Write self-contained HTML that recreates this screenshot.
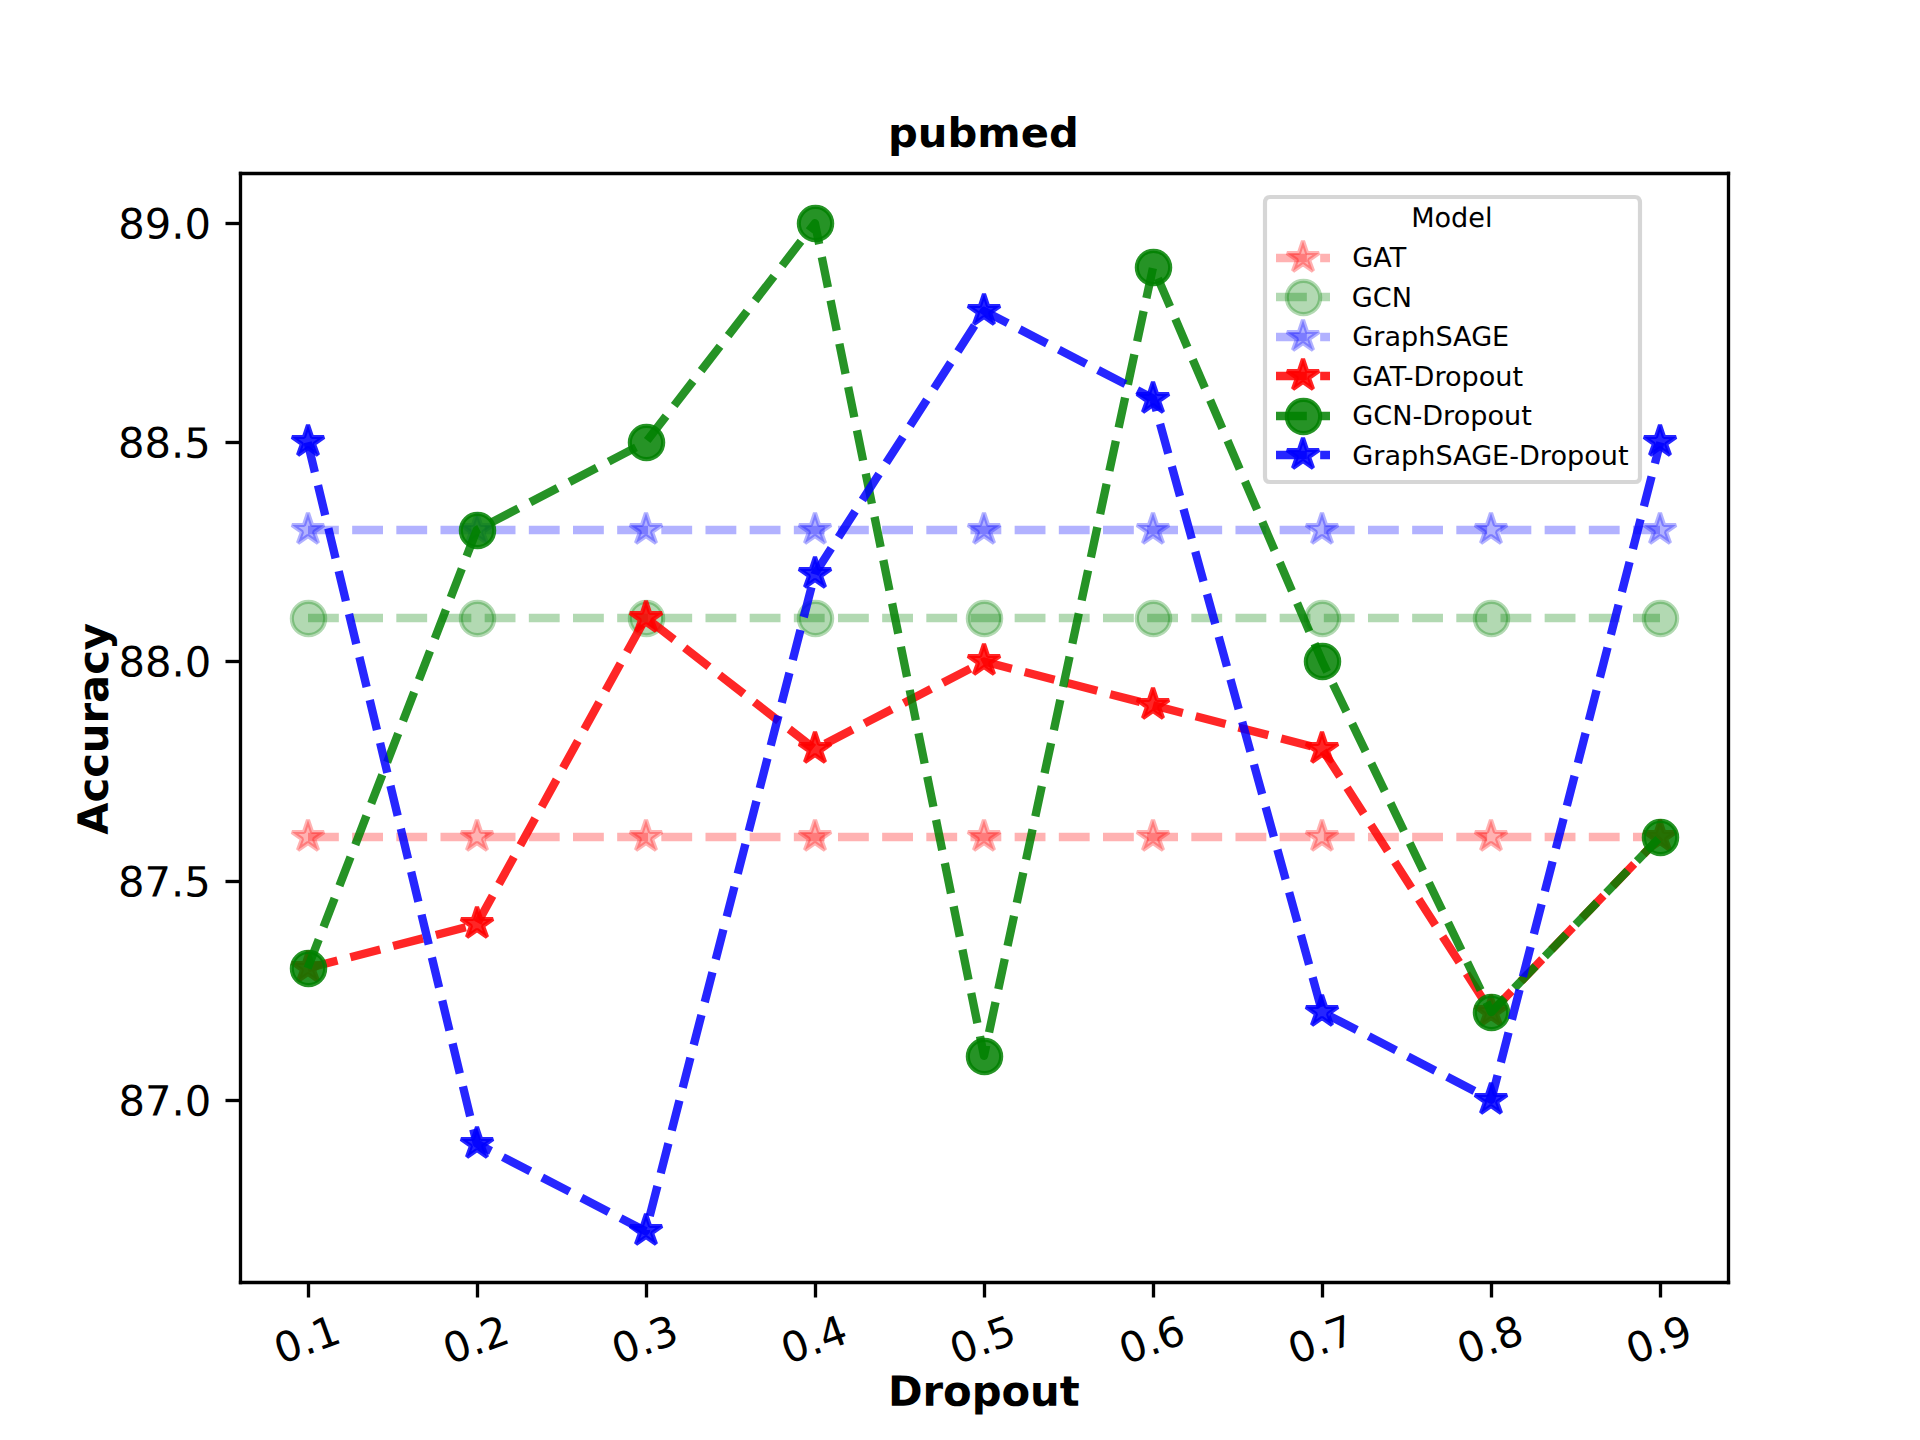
<!DOCTYPE html>
<html lang="en"><head><meta charset="utf-8"><title>pubmed</title>
<style>html,body{margin:0;padding:0;background:#fff;overflow:hidden}body{width:1920px;height:1440px}text{white-space:pre}</style>
</head><body>
<svg width="1920" height="1440" viewBox="0 0 1920 1440" style="display:block" font-family="'DejaVu Sans','Liberation Sans',sans-serif" fill="#000"><defs><clipPath id="c0"><rect x="240" y="172.8" width="1488" height="1108.8"/></clipPath></defs>
<path d="M0 1440L1920 1440L1920 0L0 0Z" fill="#ffffff"/>
<path d="M240 1282L1728 1282L1728 173L240 173Z" fill="#ffffff"/>
<g fill="#000000" stroke="#000000" stroke-width="3.333" stroke-linejoin="round"><path transform="translate(308 1282)" d="M0.5 0.5L0.5 15.5"/></g>
<text x="280.849" y="1364.582" font-size="41.667" transform="rotate(-20 280.849 1364.582)">0.1</text>
<g fill="#000000" stroke="#000000" stroke-width="3.333" stroke-linejoin="round"><path transform="translate(477 1282)" d="M0.5 0.5L0.5 15.5"/></g>
<text x="449.644" y="1364.722" font-size="41.667" transform="rotate(-20 449.644 1364.722)">0.2</text>
<g fill="#000000" stroke="#000000" stroke-width="3.333" stroke-linejoin="round"><path transform="translate(646 1282)" d="M0.5 0.5L0.5 15.5"/></g>
<text x="618.591" y="1364.711" font-size="41.667" transform="rotate(-20 618.591 1364.711)">0.3</text>
<g fill="#000000" stroke="#000000" stroke-width="3.333" stroke-linejoin="round"><path transform="translate(815 1282)" d="M0.5 0.5L0.5 15.5"/></g>
<text x="787.86" y="1364.609" font-size="41.667" transform="rotate(-20 787.86 1364.609)">0.4</text>
<g fill="#000000" stroke="#000000" stroke-width="3.333" stroke-linejoin="round"><path transform="translate(984 1282)" d="M0.5 0.5L0.5 15.5"/></g>
<text x="956.448" y="1364.778" font-size="41.667" transform="rotate(-20 956.448 1364.778)">0.5</text>
<g fill="#000000" stroke="#000000" stroke-width="3.333" stroke-linejoin="round"><path transform="translate(1153 1282)" d="M0.5 0.5L0.5 15.5"/></g>
<text x="1125.778" y="1364.772" font-size="41.667" transform="rotate(-20 1125.778 1364.772)">0.6</text>
<g fill="#000000" stroke="#000000" stroke-width="3.333" stroke-linejoin="round"><path transform="translate(1322 1282)" d="M0.5 0.5L0.5 15.5"/></g>
<text x="1294.866" y="1364.629" font-size="41.667" transform="rotate(-20 1294.866 1364.629)">0.7</text>
<g fill="#000000" stroke="#000000" stroke-width="3.333" stroke-linejoin="round"><path transform="translate(1491 1282)" d="M0.5 0.5L0.5 15.5"/></g>
<text x="1463.872" y="1364.646" font-size="41.667" transform="rotate(-20 1463.872 1364.646)">0.8</text>
<g fill="#000000" stroke="#000000" stroke-width="3.333" stroke-linejoin="round"><path transform="translate(1660 1282)" d="M0.5 0.5L0.5 15.5"/></g>
<text x="1632.651" y="1364.681" font-size="41.667" transform="rotate(-20 1632.651 1364.681)">0.9</text>
<text x="887.894" y="1405.785" font-size="41.667" font-weight="700" transform="rotate(0.05 983.644 1405.785)">Dropout</text>
<g fill="#000000" stroke="#000000" stroke-width="3.333" stroke-linejoin="round"><path transform="translate(240 1100)" d="M0.5 0.5L-14.5 0.5"/></g>
<text x="118.489" y="1115.615" font-size="41.667" transform="rotate(0.05 164.864 1115.615)">87.0</text>
<g fill="#000000" stroke="#000000" stroke-width="3.333" stroke-linejoin="round"><path transform="translate(240 881)" d="M0.5 0.5L-14.5 0.5"/></g>
<text x="117.964" y="896.561" font-size="41.667" transform="rotate(0.05 164.339 896.561)">87.5</text>
<g fill="#000000" stroke="#000000" stroke-width="3.333" stroke-linejoin="round"><path transform="translate(240 661)" d="M0.5 0.5L-14.5 0.5"/></g>
<text x="118.428" y="676.612" font-size="41.667" transform="rotate(0.05 164.928 676.612)">88.0</text>
<g fill="#000000" stroke="#000000" stroke-width="3.333" stroke-linejoin="round"><path transform="translate(240 442)" d="M0.5 0.5L-14.5 0.5"/></g>
<text x="118.084" y="457.649" font-size="41.667" transform="rotate(0.05 164.584 457.649)">88.5</text>
<g fill="#000000" stroke="#000000" stroke-width="3.333" stroke-linejoin="round"><path transform="translate(240 223)" d="M0.5 0.5L-14.5 0.5"/></g>
<text x="118.295" y="238.632" font-size="41.667" transform="rotate(0.05 164.67 238.632)">89.0</text>
<text x="107.877" y="834.771" font-size="41.667" font-weight="700" transform="rotate(0.05 107.877 729.084) rotate(-90 107.877 834.771)">Accuracy</text>
<path d="M308 837L477 837L646 837L815 837L984 837L1153 837L1322 837L1491 837L1660 837" fill="none" stroke="#ff0000" stroke-opacity="0.3" stroke-width="8.333" stroke-linejoin="round" stroke-dasharray="30.833,13.333" clip-path="url(#c0)"/>
<g fill="#ff0000" fill-opacity="0.3" stroke="#ff0000" stroke-opacity="0.3" stroke-width="4.167" stroke-linejoin="bevel" clip-path="url(#c0)"><path transform="translate(308 837)" d="M0 -17L-4 -5L-16 -5L-6 2L-10 13L0 6L10 13L6 2L16 -5L4 -5Z"/><path transform="translate(477 837)" d="M0 -17L-4 -5L-16 -5L-6 2L-10 13L0 6L10 13L6 2L16 -5L4 -5Z"/><path transform="translate(646 837)" d="M0 -17L-4 -5L-16 -5L-6 2L-10 13L0 6L10 13L6 2L16 -5L4 -5Z"/><path transform="translate(815 837)" d="M0 -17L-4 -5L-16 -5L-6 2L-10 13L0 6L10 13L6 2L16 -5L4 -5Z"/><path transform="translate(984 837)" d="M0 -17L-4 -5L-16 -5L-6 2L-10 13L0 6L10 13L6 2L16 -5L4 -5Z"/><path transform="translate(1153 837)" d="M0 -17L-4 -5L-16 -5L-6 2L-10 13L0 6L10 13L6 2L16 -5L4 -5Z"/><path transform="translate(1322 837)" d="M0 -17L-4 -5L-16 -5L-6 2L-10 13L0 6L10 13L6 2L16 -5L4 -5Z"/><path transform="translate(1491 837)" d="M0 -17L-4 -5L-16 -5L-6 2L-10 13L0 6L10 13L6 2L16 -5L4 -5Z"/><path transform="translate(1660 837)" d="M0 -17L-4 -5L-16 -5L-6 2L-10 13L0 6L10 13L6 2L16 -5L4 -5Z"/></g>
<path d="M308 618L477 618L646 618L815 618L984 618L1153 618L1322 618L1491 618L1660 618" fill="none" stroke="#008000" stroke-opacity="0.3" stroke-width="8.333" stroke-linejoin="round" stroke-dasharray="30.833,13.333" clip-path="url(#c0)"/>
<g fill="#008000" fill-opacity="0.3" stroke="#008000" stroke-opacity="0.3" stroke-width="4.167" stroke-linejoin="round" clip-path="url(#c0)"><path transform="translate(308.5 618.5)" d="M0 16.667C4.42 16.667 8.66 14.911 11.785 11.785C14.911 8.66 16.667 4.42 16.667 0C16.667 -4.42 14.911 -8.66 11.785 -11.785C8.66 -14.911 4.42 -16.667 0 -16.667C-4.42 -16.667 -8.66 -14.911 -11.785 -11.785C-14.911 -8.66 -16.667 -4.42 -16.667 0C-16.667 4.42 -14.911 8.66 -11.785 11.785C-8.66 14.911 -4.42 16.667 0 16.667Z"/><path transform="translate(477.5 618.5)" d="M0 16.667C4.42 16.667 8.66 14.911 11.785 11.785C14.911 8.66 16.667 4.42 16.667 0C16.667 -4.42 14.911 -8.66 11.785 -11.785C8.66 -14.911 4.42 -16.667 0 -16.667C-4.42 -16.667 -8.66 -14.911 -11.785 -11.785C-14.911 -8.66 -16.667 -4.42 -16.667 0C-16.667 4.42 -14.911 8.66 -11.785 11.785C-8.66 14.911 -4.42 16.667 0 16.667Z"/><path transform="translate(646.5 618.5)" d="M0 16.667C4.42 16.667 8.66 14.911 11.785 11.785C14.911 8.66 16.667 4.42 16.667 0C16.667 -4.42 14.911 -8.66 11.785 -11.785C8.66 -14.911 4.42 -16.667 0 -16.667C-4.42 -16.667 -8.66 -14.911 -11.785 -11.785C-14.911 -8.66 -16.667 -4.42 -16.667 0C-16.667 4.42 -14.911 8.66 -11.785 11.785C-8.66 14.911 -4.42 16.667 0 16.667Z"/><path transform="translate(815.5 618.5)" d="M0 16.667C4.42 16.667 8.66 14.911 11.785 11.785C14.911 8.66 16.667 4.42 16.667 0C16.667 -4.42 14.911 -8.66 11.785 -11.785C8.66 -14.911 4.42 -16.667 0 -16.667C-4.42 -16.667 -8.66 -14.911 -11.785 -11.785C-14.911 -8.66 -16.667 -4.42 -16.667 0C-16.667 4.42 -14.911 8.66 -11.785 11.785C-8.66 14.911 -4.42 16.667 0 16.667Z"/><path transform="translate(984.5 618.5)" d="M0 16.667C4.42 16.667 8.66 14.911 11.785 11.785C14.911 8.66 16.667 4.42 16.667 0C16.667 -4.42 14.911 -8.66 11.785 -11.785C8.66 -14.911 4.42 -16.667 0 -16.667C-4.42 -16.667 -8.66 -14.911 -11.785 -11.785C-14.911 -8.66 -16.667 -4.42 -16.667 0C-16.667 4.42 -14.911 8.66 -11.785 11.785C-8.66 14.911 -4.42 16.667 0 16.667Z"/><path transform="translate(1153.5 618.5)" d="M0 16.667C4.42 16.667 8.66 14.911 11.785 11.785C14.911 8.66 16.667 4.42 16.667 0C16.667 -4.42 14.911 -8.66 11.785 -11.785C8.66 -14.911 4.42 -16.667 0 -16.667C-4.42 -16.667 -8.66 -14.911 -11.785 -11.785C-14.911 -8.66 -16.667 -4.42 -16.667 0C-16.667 4.42 -14.911 8.66 -11.785 11.785C-8.66 14.911 -4.42 16.667 0 16.667Z"/><path transform="translate(1322.5 618.5)" d="M0 16.667C4.42 16.667 8.66 14.911 11.785 11.785C14.911 8.66 16.667 4.42 16.667 0C16.667 -4.42 14.911 -8.66 11.785 -11.785C8.66 -14.911 4.42 -16.667 0 -16.667C-4.42 -16.667 -8.66 -14.911 -11.785 -11.785C-14.911 -8.66 -16.667 -4.42 -16.667 0C-16.667 4.42 -14.911 8.66 -11.785 11.785C-8.66 14.911 -4.42 16.667 0 16.667Z"/><path transform="translate(1491.5 618.5)" d="M0 16.667C4.42 16.667 8.66 14.911 11.785 11.785C14.911 8.66 16.667 4.42 16.667 0C16.667 -4.42 14.911 -8.66 11.785 -11.785C8.66 -14.911 4.42 -16.667 0 -16.667C-4.42 -16.667 -8.66 -14.911 -11.785 -11.785C-14.911 -8.66 -16.667 -4.42 -16.667 0C-16.667 4.42 -14.911 8.66 -11.785 11.785C-8.66 14.911 -4.42 16.667 0 16.667Z"/><path transform="translate(1660.5 618.5)" d="M0 16.667C4.42 16.667 8.66 14.911 11.785 11.785C14.911 8.66 16.667 4.42 16.667 0C16.667 -4.42 14.911 -8.66 11.785 -11.785C8.66 -14.911 4.42 -16.667 0 -16.667C-4.42 -16.667 -8.66 -14.911 -11.785 -11.785C-14.911 -8.66 -16.667 -4.42 -16.667 0C-16.667 4.42 -14.911 8.66 -11.785 11.785C-8.66 14.911 -4.42 16.667 0 16.667Z"/></g>
<path d="M308 530L477 530L646 530L815 530L984 530L1153 530L1322 530L1491 530L1660 530" fill="none" stroke="#0000ff" stroke-opacity="0.3" stroke-width="8.333" stroke-linejoin="round" stroke-dasharray="30.833,13.333" clip-path="url(#c0)"/>
<g fill="#0000ff" fill-opacity="0.3" stroke="#0000ff" stroke-opacity="0.3" stroke-width="4.167" stroke-linejoin="bevel" clip-path="url(#c0)"><path transform="translate(308 530)" d="M0 -17L-4 -5L-16 -5L-6 2L-10 13L0 6L10 13L6 2L16 -5L4 -5Z"/><path transform="translate(477 530)" d="M0 -17L-4 -5L-16 -5L-6 2L-10 13L0 6L10 13L6 2L16 -5L4 -5Z"/><path transform="translate(646 530)" d="M0 -17L-4 -5L-16 -5L-6 2L-10 13L0 6L10 13L6 2L16 -5L4 -5Z"/><path transform="translate(815 530)" d="M0 -17L-4 -5L-16 -5L-6 2L-10 13L0 6L10 13L6 2L16 -5L4 -5Z"/><path transform="translate(984 530)" d="M0 -17L-4 -5L-16 -5L-6 2L-10 13L0 6L10 13L6 2L16 -5L4 -5Z"/><path transform="translate(1153 530)" d="M0 -17L-4 -5L-16 -5L-6 2L-10 13L0 6L10 13L6 2L16 -5L4 -5Z"/><path transform="translate(1322 530)" d="M0 -17L-4 -5L-16 -5L-6 2L-10 13L0 6L10 13L6 2L16 -5L4 -5Z"/><path transform="translate(1491 530)" d="M0 -17L-4 -5L-16 -5L-6 2L-10 13L0 6L10 13L6 2L16 -5L4 -5Z"/><path transform="translate(1660 530)" d="M0 -17L-4 -5L-16 -5L-6 2L-10 13L0 6L10 13L6 2L16 -5L4 -5Z"/></g>
<path d="M307.636 968.243L476.727 924.417L645.818 617.635L814.909 749.113L984 661.461L1153.091 705.287L1322.182 749.113L1491.273 1012.07L1660.364 836.765" fill="none" stroke="#ff0000" stroke-opacity="0.85" stroke-width="8.333" stroke-linejoin="round" stroke-dasharray="30.833,13.333" clip-path="url(#c0)"/>
<g fill="#ff0000" fill-opacity="0.85" stroke="#ff0000" stroke-opacity="0.85" stroke-width="4.167" stroke-linejoin="bevel" clip-path="url(#c0)"><path transform="translate(308 968)" d="M0 -17L-4 -5L-16 -5L-6 2L-10 13L0 6L10 13L6 2L16 -5L4 -5Z"/><path transform="translate(477 924)" d="M0 -17L-4 -5L-16 -5L-6 2L-10 13L0 6L10 13L6 2L16 -5L4 -5Z"/><path transform="translate(646 618)" d="M0 -17L-4 -5L-16 -5L-6 2L-10 13L0 6L10 13L6 2L16 -5L4 -5Z"/><path transform="translate(815 749)" d="M0 -17L-4 -5L-16 -5L-6 2L-10 13L0 6L10 13L6 2L16 -5L4 -5Z"/><path transform="translate(984 661)" d="M0 -17L-4 -5L-16 -5L-6 2L-10 13L0 6L10 13L6 2L16 -5L4 -5Z"/><path transform="translate(1153 705)" d="M0 -17L-4 -5L-16 -5L-6 2L-10 13L0 6L10 13L6 2L16 -5L4 -5Z"/><path transform="translate(1322 749)" d="M0 -17L-4 -5L-16 -5L-6 2L-10 13L0 6L10 13L6 2L16 -5L4 -5Z"/><path transform="translate(1491 1012)" d="M0 -17L-4 -5L-16 -5L-6 2L-10 13L0 6L10 13L6 2L16 -5L4 -5Z"/><path transform="translate(1660 837)" d="M0 -17L-4 -5L-16 -5L-6 2L-10 13L0 6L10 13L6 2L16 -5L4 -5Z"/></g>
<path d="M307.636 968.243L476.727 529.983L645.818 442.33L814.909 223.2L984 1055.896L1153.091 267.026L1322.182 661.461L1491.273 1012.07L1660.364 836.765" fill="none" stroke="#008000" stroke-opacity="0.85" stroke-width="8.333" stroke-linejoin="round" stroke-dasharray="30.833,13.333" clip-path="url(#c0)"/>
<g fill="#008000" fill-opacity="0.85" stroke="#008000" stroke-opacity="0.85" stroke-width="4.167" stroke-linejoin="round" clip-path="url(#c0)"><path transform="translate(308.5 968.5)" d="M0 16.667C4.42 16.667 8.66 14.911 11.785 11.785C14.911 8.66 16.667 4.42 16.667 0C16.667 -4.42 14.911 -8.66 11.785 -11.785C8.66 -14.911 4.42 -16.667 0 -16.667C-4.42 -16.667 -8.66 -14.911 -11.785 -11.785C-14.911 -8.66 -16.667 -4.42 -16.667 0C-16.667 4.42 -14.911 8.66 -11.785 11.785C-8.66 14.911 -4.42 16.667 0 16.667Z"/><path transform="translate(477.5 530.5)" d="M0 16.667C4.42 16.667 8.66 14.911 11.785 11.785C14.911 8.66 16.667 4.42 16.667 0C16.667 -4.42 14.911 -8.66 11.785 -11.785C8.66 -14.911 4.42 -16.667 0 -16.667C-4.42 -16.667 -8.66 -14.911 -11.785 -11.785C-14.911 -8.66 -16.667 -4.42 -16.667 0C-16.667 4.42 -14.911 8.66 -11.785 11.785C-8.66 14.911 -4.42 16.667 0 16.667Z"/><path transform="translate(646.5 442.5)" d="M0 16.667C4.42 16.667 8.66 14.911 11.785 11.785C14.911 8.66 16.667 4.42 16.667 0C16.667 -4.42 14.911 -8.66 11.785 -11.785C8.66 -14.911 4.42 -16.667 0 -16.667C-4.42 -16.667 -8.66 -14.911 -11.785 -11.785C-14.911 -8.66 -16.667 -4.42 -16.667 0C-16.667 4.42 -14.911 8.66 -11.785 11.785C-8.66 14.911 -4.42 16.667 0 16.667Z"/><path transform="translate(815.5 223.5)" d="M0 16.667C4.42 16.667 8.66 14.911 11.785 11.785C14.911 8.66 16.667 4.42 16.667 0C16.667 -4.42 14.911 -8.66 11.785 -11.785C8.66 -14.911 4.42 -16.667 0 -16.667C-4.42 -16.667 -8.66 -14.911 -11.785 -11.785C-14.911 -8.66 -16.667 -4.42 -16.667 0C-16.667 4.42 -14.911 8.66 -11.785 11.785C-8.66 14.911 -4.42 16.667 0 16.667Z"/><path transform="translate(984.5 1056.5)" d="M0 16.667C4.42 16.667 8.66 14.911 11.785 11.785C14.911 8.66 16.667 4.42 16.667 0C16.667 -4.42 14.911 -8.66 11.785 -11.785C8.66 -14.911 4.42 -16.667 0 -16.667C-4.42 -16.667 -8.66 -14.911 -11.785 -11.785C-14.911 -8.66 -16.667 -4.42 -16.667 0C-16.667 4.42 -14.911 8.66 -11.785 11.785C-8.66 14.911 -4.42 16.667 0 16.667Z"/><path transform="translate(1153.5 267.5)" d="M0 16.667C4.42 16.667 8.66 14.911 11.785 11.785C14.911 8.66 16.667 4.42 16.667 0C16.667 -4.42 14.911 -8.66 11.785 -11.785C8.66 -14.911 4.42 -16.667 0 -16.667C-4.42 -16.667 -8.66 -14.911 -11.785 -11.785C-14.911 -8.66 -16.667 -4.42 -16.667 0C-16.667 4.42 -14.911 8.66 -11.785 11.785C-8.66 14.911 -4.42 16.667 0 16.667Z"/><path transform="translate(1322.5 661.5)" d="M0 16.667C4.42 16.667 8.66 14.911 11.785 11.785C14.911 8.66 16.667 4.42 16.667 0C16.667 -4.42 14.911 -8.66 11.785 -11.785C8.66 -14.911 4.42 -16.667 0 -16.667C-4.42 -16.667 -8.66 -14.911 -11.785 -11.785C-14.911 -8.66 -16.667 -4.42 -16.667 0C-16.667 4.42 -14.911 8.66 -11.785 11.785C-8.66 14.911 -4.42 16.667 0 16.667Z"/><path transform="translate(1491.5 1012.5)" d="M0 16.667C4.42 16.667 8.66 14.911 11.785 11.785C14.911 8.66 16.667 4.42 16.667 0C16.667 -4.42 14.911 -8.66 11.785 -11.785C8.66 -14.911 4.42 -16.667 0 -16.667C-4.42 -16.667 -8.66 -14.911 -11.785 -11.785C-14.911 -8.66 -16.667 -4.42 -16.667 0C-16.667 4.42 -14.911 8.66 -11.785 11.785C-8.66 14.911 -4.42 16.667 0 16.667Z"/><path transform="translate(1660.5 837.5)" d="M0 16.667C4.42 16.667 8.66 14.911 11.785 11.785C14.911 8.66 16.667 4.42 16.667 0C16.667 -4.42 14.911 -8.66 11.785 -11.785C8.66 -14.911 4.42 -16.667 0 -16.667C-4.42 -16.667 -8.66 -14.911 -11.785 -11.785C-14.911 -8.66 -16.667 -4.42 -16.667 0C-16.667 4.42 -14.911 8.66 -11.785 11.785C-8.66 14.911 -4.42 16.667 0 16.667Z"/></g>
<path d="M307.636 442.33L476.727 1143.548L645.818 1231.2L814.909 573.809L984 310.852L1153.091 398.504L1322.182 1012.07L1491.273 1099.722L1660.364 442.33" fill="none" stroke="#0000ff" stroke-opacity="0.85" stroke-width="8.333" stroke-linejoin="round" stroke-dasharray="30.833,13.333" clip-path="url(#c0)"/>
<g fill="#0000ff" fill-opacity="0.85" stroke="#0000ff" stroke-opacity="0.85" stroke-width="4.167" stroke-linejoin="bevel" clip-path="url(#c0)"><path transform="translate(308 442)" d="M0 -17L-4 -5L-16 -5L-6 2L-10 13L0 6L10 13L6 2L16 -5L4 -5Z"/><path transform="translate(477 1144)" d="M0 -17L-4 -5L-16 -5L-6 2L-10 13L0 6L10 13L6 2L16 -5L4 -5Z"/><path transform="translate(646 1231)" d="M0 -17L-4 -5L-16 -5L-6 2L-10 13L0 6L10 13L6 2L16 -5L4 -5Z"/><path transform="translate(815 574)" d="M0 -17L-4 -5L-16 -5L-6 2L-10 13L0 6L10 13L6 2L16 -5L4 -5Z"/><path transform="translate(984 311)" d="M0 -17L-4 -5L-16 -5L-6 2L-10 13L0 6L10 13L6 2L16 -5L4 -5Z"/><path transform="translate(1153 399)" d="M0 -17L-4 -5L-16 -5L-6 2L-10 13L0 6L10 13L6 2L16 -5L4 -5Z"/><path transform="translate(1322 1012)" d="M0 -17L-4 -5L-16 -5L-6 2L-10 13L0 6L10 13L6 2L16 -5L4 -5Z"/><path transform="translate(1491 1100)" d="M0 -17L-4 -5L-16 -5L-6 2L-10 13L0 6L10 13L6 2L16 -5L4 -5Z"/><path transform="translate(1660 442)" d="M0 -17L-4 -5L-16 -5L-6 2L-10 13L0 6L10 13L6 2L16 -5L4 -5Z"/></g>
<path d="M240.5 1282.5L240.5 173.5" fill="none" stroke="#000000" stroke-width="3.333" stroke-linecap="square" stroke-linejoin="miter"/>
<path d="M1728.5 1282.5L1728.5 173.5" fill="none" stroke="#000000" stroke-width="3.333" stroke-linecap="square" stroke-linejoin="miter"/>
<path d="M240.5 1282.5L1728.5 1282.5" fill="none" stroke="#000000" stroke-width="3.333" stroke-linecap="square" stroke-linejoin="miter"/>
<path d="M240.5 173.5L1728.5 173.5" fill="none" stroke="#000000" stroke-width="3.333" stroke-linecap="square" stroke-linejoin="miter"/>
<text x="888.062" y="147" font-size="41.667" font-weight="700">pubmed</text>
<path d="M1270 482L1635 482Q1640 482 1640 477L1640 203Q1640 197 1635 197L1270 197Q1265 197 1265 203L1265 477Q1265 482 1270 482Z" fill="#ffffff" fill-opacity="0.8" stroke="#cccccc" stroke-opacity="0.8" stroke-width="4.167" stroke-linejoin="miter"/>
<text x="1411.193" y="226.924" font-size="27.083" transform="rotate(0.05 1451.943 226.924)">Model</text>
<path d="M1276 258L1303 258L1330 258" fill="none" stroke="#ff0000" stroke-opacity="0.3" stroke-width="8.333" stroke-linejoin="round" stroke-dasharray="30.833,13.333"/>
<g fill="#ff0000" fill-opacity="0.3" stroke="#ff0000" stroke-opacity="0.3" stroke-width="4.167" stroke-linejoin="bevel"><path transform="translate(1303 258)" d="M0 -17L-4 -5L-16 -5L-6 2L-10 13L0 6L10 13L6 2L16 -5L4 -5Z"/></g>
<text x="1352.35" y="267" font-size="27.083">GAT</text>
<path d="M1276 297L1303 297L1330 297" fill="none" stroke="#008000" stroke-opacity="0.3" stroke-width="8.333" stroke-linejoin="round" stroke-dasharray="30.833,13.333"/>
<g fill="#008000" fill-opacity="0.3" stroke="#008000" stroke-opacity="0.3" stroke-width="4.167" stroke-linejoin="round"><path transform="translate(1303.5 297.5)" d="M0 16.667C4.42 16.667 8.66 14.911 11.785 11.785C14.911 8.66 16.667 4.42 16.667 0C16.667 -4.42 14.911 -8.66 11.785 -11.785C8.66 -14.911 4.42 -16.667 0 -16.667C-4.42 -16.667 -8.66 -14.911 -11.785 -11.785C-14.911 -8.66 -16.667 -4.42 -16.667 0C-16.667 4.42 -14.911 8.66 -11.785 11.785C-8.66 14.911 -4.42 16.667 0 16.667Z"/></g>
<text x="1351.85" y="307" font-size="27.083">GCN</text>
<path d="M1276 337L1303 337L1330 337" fill="none" stroke="#0000ff" stroke-opacity="0.3" stroke-width="8.333" stroke-linejoin="round" stroke-dasharray="30.833,13.333"/>
<g fill="#0000ff" fill-opacity="0.3" stroke="#0000ff" stroke-opacity="0.3" stroke-width="4.167" stroke-linejoin="bevel"><path transform="translate(1303 337)" d="M0 -17L-4 -5L-16 -5L-6 2L-10 13L0 6L10 13L6 2L16 -5L4 -5Z"/></g>
<text x="1352.35" y="346" font-size="27.083">GraphSAGE</text>
<path d="M1276 376L1303 376L1330 376" fill="none" stroke="#ff0000" stroke-opacity="0.85" stroke-width="8.333" stroke-linejoin="round" stroke-dasharray="30.833,13.333"/>
<g fill="#ff0000" fill-opacity="0.85" stroke="#ff0000" stroke-opacity="0.85" stroke-width="4.167" stroke-linejoin="bevel"><path transform="translate(1303 376)" d="M0 -17L-4 -5L-16 -5L-6 2L-10 13L0 6L10 13L6 2L16 -5L4 -5Z"/></g>
<text x="1352.35" y="386" font-size="27.083">GAT-Dropout</text>
<path d="M1276 416L1303 416L1330 416" fill="none" stroke="#008000" stroke-opacity="0.85" stroke-width="8.333" stroke-linejoin="round" stroke-dasharray="30.833,13.333"/>
<g fill="#008000" fill-opacity="0.85" stroke="#008000" stroke-opacity="0.85" stroke-width="4.167" stroke-linejoin="round"><path transform="translate(1303.5 416.5)" d="M0 16.667C4.42 16.667 8.66 14.911 11.785 11.785C14.911 8.66 16.667 4.42 16.667 0C16.667 -4.42 14.911 -8.66 11.785 -11.785C8.66 -14.911 4.42 -16.667 0 -16.667C-4.42 -16.667 -8.66 -14.911 -11.785 -11.785C-14.911 -8.66 -16.667 -4.42 -16.667 0C-16.667 4.42 -14.911 8.66 -11.785 11.785C-8.66 14.911 -4.42 16.667 0 16.667Z"/></g>
<text x="1352.35" y="425" font-size="27.083">GCN-Dropout</text>
<path d="M1276 455L1303 455L1330 455" fill="none" stroke="#0000ff" stroke-opacity="0.85" stroke-width="8.333" stroke-linejoin="round" stroke-dasharray="30.833,13.333"/>
<g fill="#0000ff" fill-opacity="0.85" stroke="#0000ff" stroke-opacity="0.85" stroke-width="4.167" stroke-linejoin="bevel"><path transform="translate(1303 455)" d="M0 -17L-4 -5L-16 -5L-6 2L-10 13L0 6L10 13L6 2L16 -5L4 -5Z"/></g>
<text x="1352.35" y="465" font-size="27.083">GraphSAGE-Dropout</text>
</svg>
</body></html>
